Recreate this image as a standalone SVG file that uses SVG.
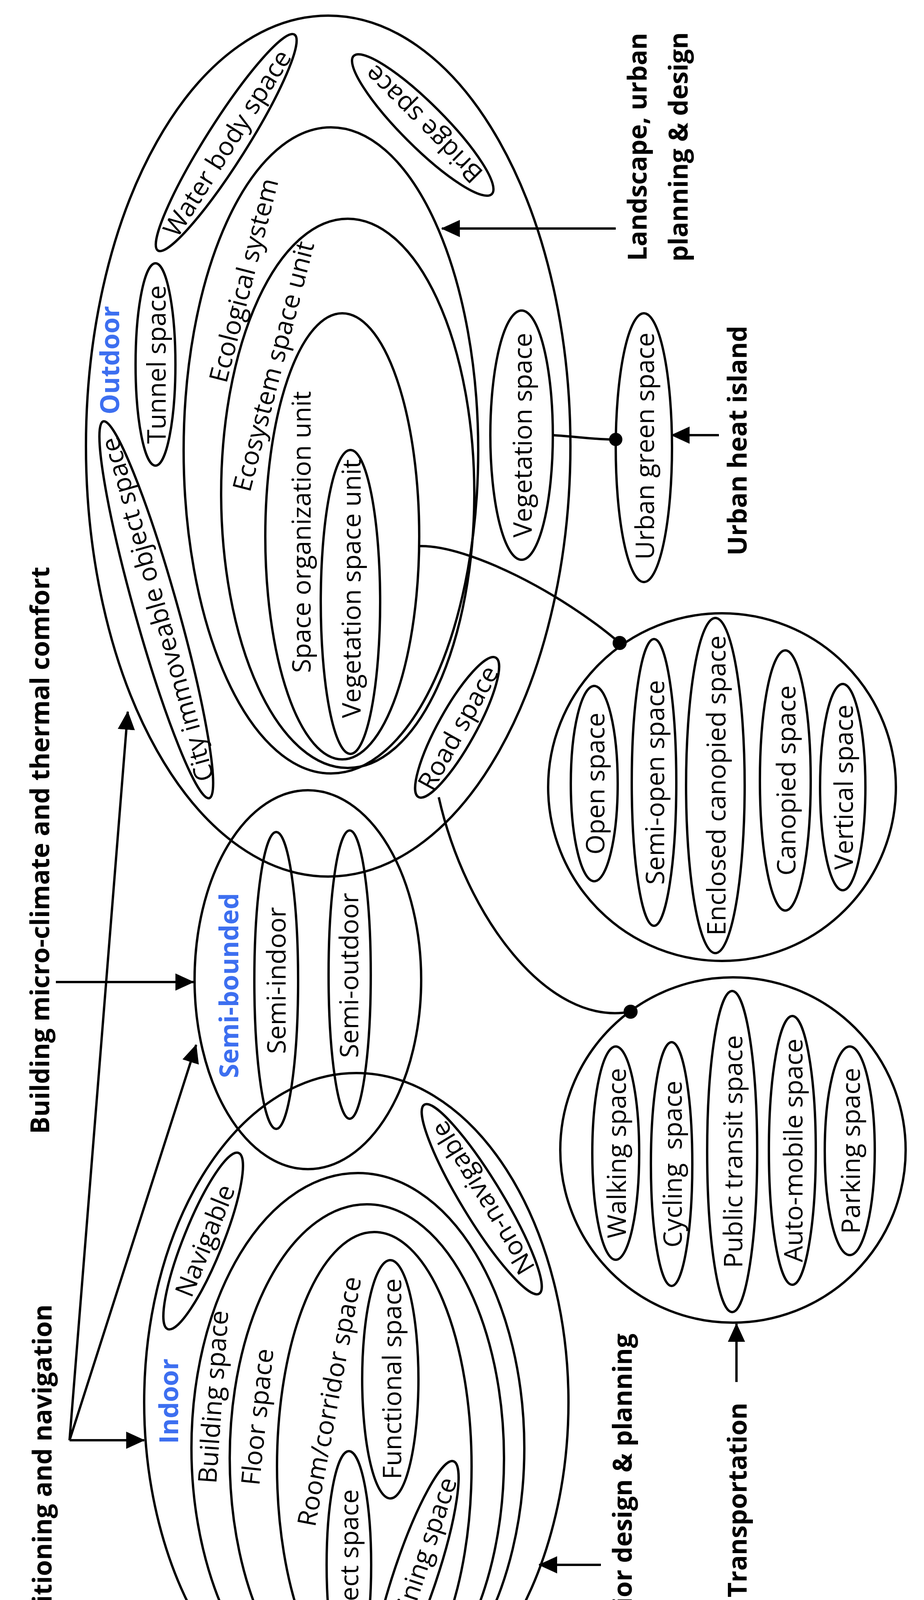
<svg xmlns="http://www.w3.org/2000/svg" width="2365" height="4450" viewBox="0 0 2365 4450">
<style>
.e{fill:none;stroke:#000;stroke-width:6}
.c{fill:none;stroke:#000;stroke-width:6}
text{font-family:"Open Sans","Liberation Sans",sans-serif;text-anchor:middle;dominant-baseline:central}
.t{font-size:66px}
.b{font-size:66px;font-weight:bold}
.blue{fill:#3d6ff0;font-weight:bold;font-size:66px}
</style>
<defs>
<marker id="ah" markerUnits="userSpaceOnUse" markerWidth="50" markerHeight="44" refX="46" refY="22" orient="auto">
<path d="M0,0 L48,22 L0,44 Z" fill="#000"/>
</marker>
</defs>
<rect width="2365" height="4450" fill="#fff"/>

<g id="outdoor">
<ellipse class="e" cx="840" cy="1142" rx="620" ry="1102"/>
<text class="blue" transform="translate(279,922) rotate(-90)">Outdoor</text>
</g>
<g id="ecological"><ellipse class="e" cx="847" cy="1153" rx="377" ry="827"/>
<text class="t" transform="translate(621,717) rotate(-75.6)">Ecological system</text></g>
<g id="ecosystem"><ellipse class="e" cx="890" cy="1263" rx="324" ry="703"/>
<text class="t" transform="translate(697,937) rotate(-75.5)">Ecosystem space unit</text></g>
<g id="spaceorg"><ellipse class="e" cx="876" cy="1373" rx="197" ry="571"/>
<text class="t" transform="translate(769,1362) rotate(-90)">Space organization unit</text></g>
<g id="vegunit"><ellipse class="e" cx="897" cy="1541" rx="76" ry="389"/>
<text class="t" transform="translate(897,1507) rotate(-90)">Vegetation space unit</text></g>
<g id="tunnel"><ellipse class="e" cx="398" cy="933" rx="51" ry="259"/>
<text class="t" transform="translate(398,933) rotate(-90)">Tunnel space</text></g>
<g id="water"><ellipse class="e" cx="0" cy="0" rx="327" ry="52" transform="translate(579,365) rotate(-57.7)"/>
<text class="t" transform="translate(579,365) rotate(-57.7)">Water body space</text></g>
<g id="bridge"><ellipse class="e" cx="0" cy="0" rx="250" ry="55" transform="translate(1082,320) rotate(45)"/>
<text class="t" transform="translate(1082,320) rotate(-135)">Bridge space</text></g>
<g id="city"><ellipse class="e" cx="0" cy="0" rx="501" ry="55" transform="translate(400,1561) rotate(-105.7)"/>
<text class="t" transform="translate(400,1561) rotate(-105.7)">City immoveable object space</text></g>
<g id="road"><ellipse class="e" cx="0" cy="0" rx="204" ry="48" transform="translate(1170,1862) rotate(-61)"/>
<text class="t" transform="translate(1170,1862) rotate(-61)">Road space</text></g>
<g id="vegspace"><ellipse class="e" cx="1335" cy="1114" rx="80" ry="319"/>
<text class="t" transform="translate(1335,1114) rotate(-90)">Vegetation space</text></g>
<g id="urbangreen"><ellipse class="e" cx="1648" cy="1146" rx="72" ry="344"/>
<text class="t" transform="translate(1648,1142) rotate(-90)">Urban green space</text></g>

<g id="opencircle"><circle class="e" cx="1848" cy="2015" r="445"/>
<ellipse class="e" cx="1521" cy="2006" rx="60" ry="250"/><text class="t" transform="translate(1521,2006) rotate(-90)">Open space</text>
<ellipse class="e" cx="1674" cy="2003" rx="57" ry="367"/><text class="t" transform="translate(1674,2003) rotate(-90)">Semi-open space</text>
<ellipse class="e" cx="1831" cy="2011" rx="75" ry="429"/><text class="t" transform="translate(1831,2011) rotate(-90)">Enclosed canopied space</text>
<ellipse class="e" cx="2010" cy="1998" rx="65" ry="333"/><text class="t" transform="translate(2010,1998) rotate(-90)">Canopied space</text>
<ellipse class="e" cx="2157" cy="2015" rx="58" ry="264"/><text class="t" transform="translate(2157,2015) rotate(-90)">Vertical space</text>
</g>

<g id="transport"><circle class="e" cx="1876" cy="2944" r="442"/>
<ellipse class="e" cx="1576" cy="2952" rx="60" ry="273"/><text class="t" transform="translate(1576,2952) rotate(-90)">Walking space</text>
<ellipse class="e" cx="1719" cy="2980" rx="53" ry="312"/><text class="t" transform="translate(1719,2980) rotate(-90)">Cycling&#160; space</text>
<ellipse class="e" cx="1874" cy="2948" rx="64" ry="411"/><text class="t" transform="translate(1874,2948) rotate(-90)">Public transit space</text>
<ellipse class="e" cx="2028" cy="2945" rx="60" ry="344"/><text class="t" transform="translate(2028,2945) rotate(-90)">Auto-mobile space</text>
<ellipse class="e" cx="2175" cy="2946" rx="64" ry="267"/><text class="t" transform="translate(2175,2946) rotate(-90)">Parking space</text>
</g>

<g id="semibounded"><ellipse class="e" cx="788" cy="2508" rx="290" ry="485"/>
<text class="blue" transform="translate(584,2523) rotate(-90)">Semi-bounded</text>
<ellipse class="e" cx="707" cy="2510" rx="56" ry="380"/><text class="t" transform="translate(705,2510) rotate(-90)">Semi-indoor</text>
<ellipse class="e" cx="895" cy="2495" rx="54" ry="369"/><text class="t" transform="translate(891,2497) rotate(-90)">Semi-outdoor</text>
</g>

<g id="indoor"><ellipse class="e" cx="912" cy="3590" rx="543" ry="843"/>
<text class="blue" transform="translate(430,3587) rotate(-90)">Indoor</text></g>
<g id="building"><ellipse class="e" cx="916" cy="3707" rx="426" ry="704"/>
<text class="t" transform="translate(543,3576) rotate(-86)">Building space</text></g>
<g id="floor"><ellipse class="e" cx="939" cy="3733" rx="351" ry="650"/>
<text class="t" transform="translate(656,3627) rotate(-84)">Floor space</text></g>
<g id="room"><ellipse class="e" cx="958" cy="3754" rx="249" ry="600"/>
<text class="t" transform="translate(840,3587) rotate(-79.5)">Room/corridor space</text></g>
<g id="functional"><ellipse class="e" cx="999" cy="3531" rx="72" ry="305"/>
<text class="t" transform="translate(1001,3530) rotate(-90)">Functional space</text></g>
<g id="object"><ellipse class="e" cx="893" cy="4006" rx="57" ry="291"/>
<text class="t" transform="translate(891,4010) rotate(-90)">Object space</text></g>
<g id="remaining"><ellipse class="e" cx="0" cy="0" rx="308" ry="55" transform="translate(1063,4033) rotate(-71.5)"/>
<text class="t" transform="translate(1063,4030) rotate(-71.5)">Remaining space</text></g>
<g id="navigable"><ellipse class="e" cx="0" cy="0" rx="243" ry="50" transform="translate(520,3177) rotate(-68.1)"/>
<text class="t" transform="translate(522,3175) rotate(-68.1)">Navigable</text></g>
<g id="nonnavigable"><ellipse class="e" cx="0" cy="0" rx="283" ry="52" transform="translate(1233,3070) rotate(-121.3)"/>
<text class="t" transform="translate(1233,3068) rotate(-121.3)">Non-navigable</text></g>

<g id="labels">
<text class="b" transform="translate(1629,376) rotate(-90)">Landscape, urban</text>
<text class="b" transform="translate(1734,376) rotate(-90)">planning &amp; design</text>
<text class="b" transform="translate(1885,1128) rotate(-90)">Urban heat island</text>
<text class="b" transform="translate(1885,3840) rotate(-90)">Transportation</text>
<text class="b" transform="translate(1591,3843) rotate(-90)">Interior design &amp; planning</text>
<text class="b" transform="translate(106,3779) rotate(-90)">Positioning and navigation</text>
<text class="b" transform="translate(100,2177) rotate(-90)">Building micro-climate and thermal comfort</text>
</g>

<g id="connectors">
<path class="c" d="M1415,1114 C1480,1118 1530,1126 1576,1125"/>
<circle cx="1576" cy="1125" r="17"/>
<path class="c" d="M1074,1398 C1200,1395 1440,1520 1586,1646"/>
<circle cx="1586" cy="1646" r="18"/>
<path class="c" d="M1123,2041 C1190,2340 1400,2630 1614,2590"/>
<circle cx="1614" cy="2590" r="18"/>
<path class="c" d="M1576,585 L1131,585" marker-end="url(#ah)"/>
<path class="c" d="M1840,1114 L1719,1114" marker-end="url(#ah)"/>
<path class="c" d="M1885,3538 L1885,3389" marker-end="url(#ah)"/>
<path class="c" d="M1538,4006 L1380,4006" marker-end="url(#ah)"/>
<path class="c" d="M143,2514 L495,2514" marker-end="url(#ah)"/>
<path class="c" d="M178,3687 L369,3687" marker-end="url(#ah)"/>
<path class="c" d="M178,3687 L502,2675" marker-end="url(#ah)"/>
<path class="c" d="M178,3687 L327,1822" marker-end="url(#ah)"/>
</g>
</svg>
